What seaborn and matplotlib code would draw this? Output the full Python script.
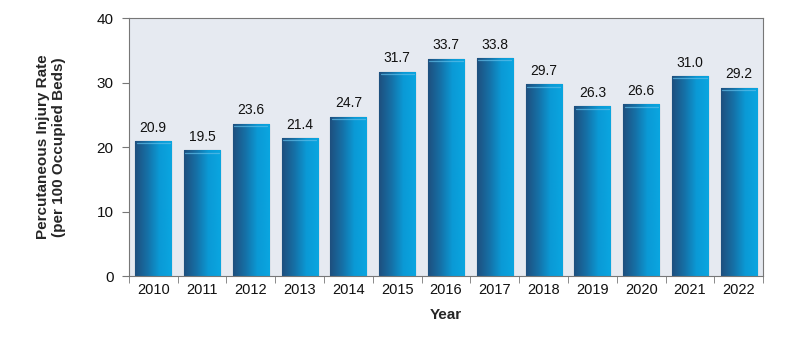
import numpy as np
import pandas as pd
import matplotlib
matplotlib.use('Agg')
import matplotlib.pyplot as plt
import seaborn as sns
from matplotlib.colors import LinearSegmentedColormap

# --- data ---
years = ['2010', '2011', '2012', '2013', '2014', '2015', '2016',
         '2017', '2018', '2019', '2020', '2021', '2022']
rates = [20.9, 19.5, 23.6, 21.4, 24.7, 31.7, 33.7, 33.8, 29.7, 26.3, 26.6, 31.0, 29.2]

df = pd.DataFrame({'year': years, 'rate': rates})

sns.set_style('ticks')
plt.rcParams['font.family'] = ['Liberation Sans', 'DejaVu Sans']
plt.rcParams['text.color'] = '#111111'
plt.rcParams['xtick.labelcolor'] = '#111111'
plt.rcParams['ytick.labelcolor'] = '#111111'

fig = plt.figure(figsize=(8, 3.53), dpi=100)
ax = fig.add_axes([0.161, 0.218, 0.793, 0.731])
ax.set_facecolor('#E6EAF1')

sns.barplot(data=df, x='year', y='rate', ax=ax, width=0.74,
            color='#1A7FB8', edgecolor='#1B3B5C', linewidth=0.8, zorder=2)

# gradient fill on each bar (dark left -> bright right)
cmap = LinearSegmentedColormap.from_list('bar', ['#1E4F7E', '#1670A6', '#0A9AD6', '#0AA6E0'])
grad = np.linspace(0, 1, 256).reshape(1, -1)
for p in ax.patches:
    x0, w, h = p.get_x(), p.get_width(), p.get_height()
    im = ax.imshow(grad, extent=[x0, x0 + w, 0, h], aspect='auto',
                   cmap=cmap, zorder=2.5)
    im.set_clip_path(p)
    # top highlight
    ax.plot([x0 + 0.03, x0 + w - 0.03], [h - 0.35, h - 0.35],
            color='#5FBDE8', lw=0.9, zorder=3, alpha=0.7)
    ax.text(x0 + w / 2, h + 1.0, f'{h:.1f}', ha='center', va='bottom',
            fontsize=10, zorder=4)

ax.set_xlim(-0.5, len(years) - 0.5)
ax.set_ylim(0, 40)
ax.set_yticks([0, 10, 20, 30, 40])

# ticks between categories
ax.set_xticks(np.arange(len(years)))
ax.set_xticklabels(years)
ax.set_xticks(np.arange(-0.5, len(years), 1.0), minor=True)
ax.tick_params(axis='x', which='major', length=0, labelsize=10.5, pad=5)
ax.tick_params(axis='x', which='minor', length=5, color='#777777')
ax.tick_params(axis='y', length=5, color='#777777', labelsize=11, pad=6)

for s in ax.spines.values():
    s.set_visible(True)
    s.set_color('#777777')
    s.set_linewidth(0.8)

ax.set_xlabel('Year', fontsize=11, fontweight='bold', labelpad=8)
ax.set_ylabel('Percutaneous Injury Rate\n(per 100 Occupied Beds)',
              fontsize=11, fontweight='bold', labelpad=22)

fig.savefig('out.png', dpi=100)
